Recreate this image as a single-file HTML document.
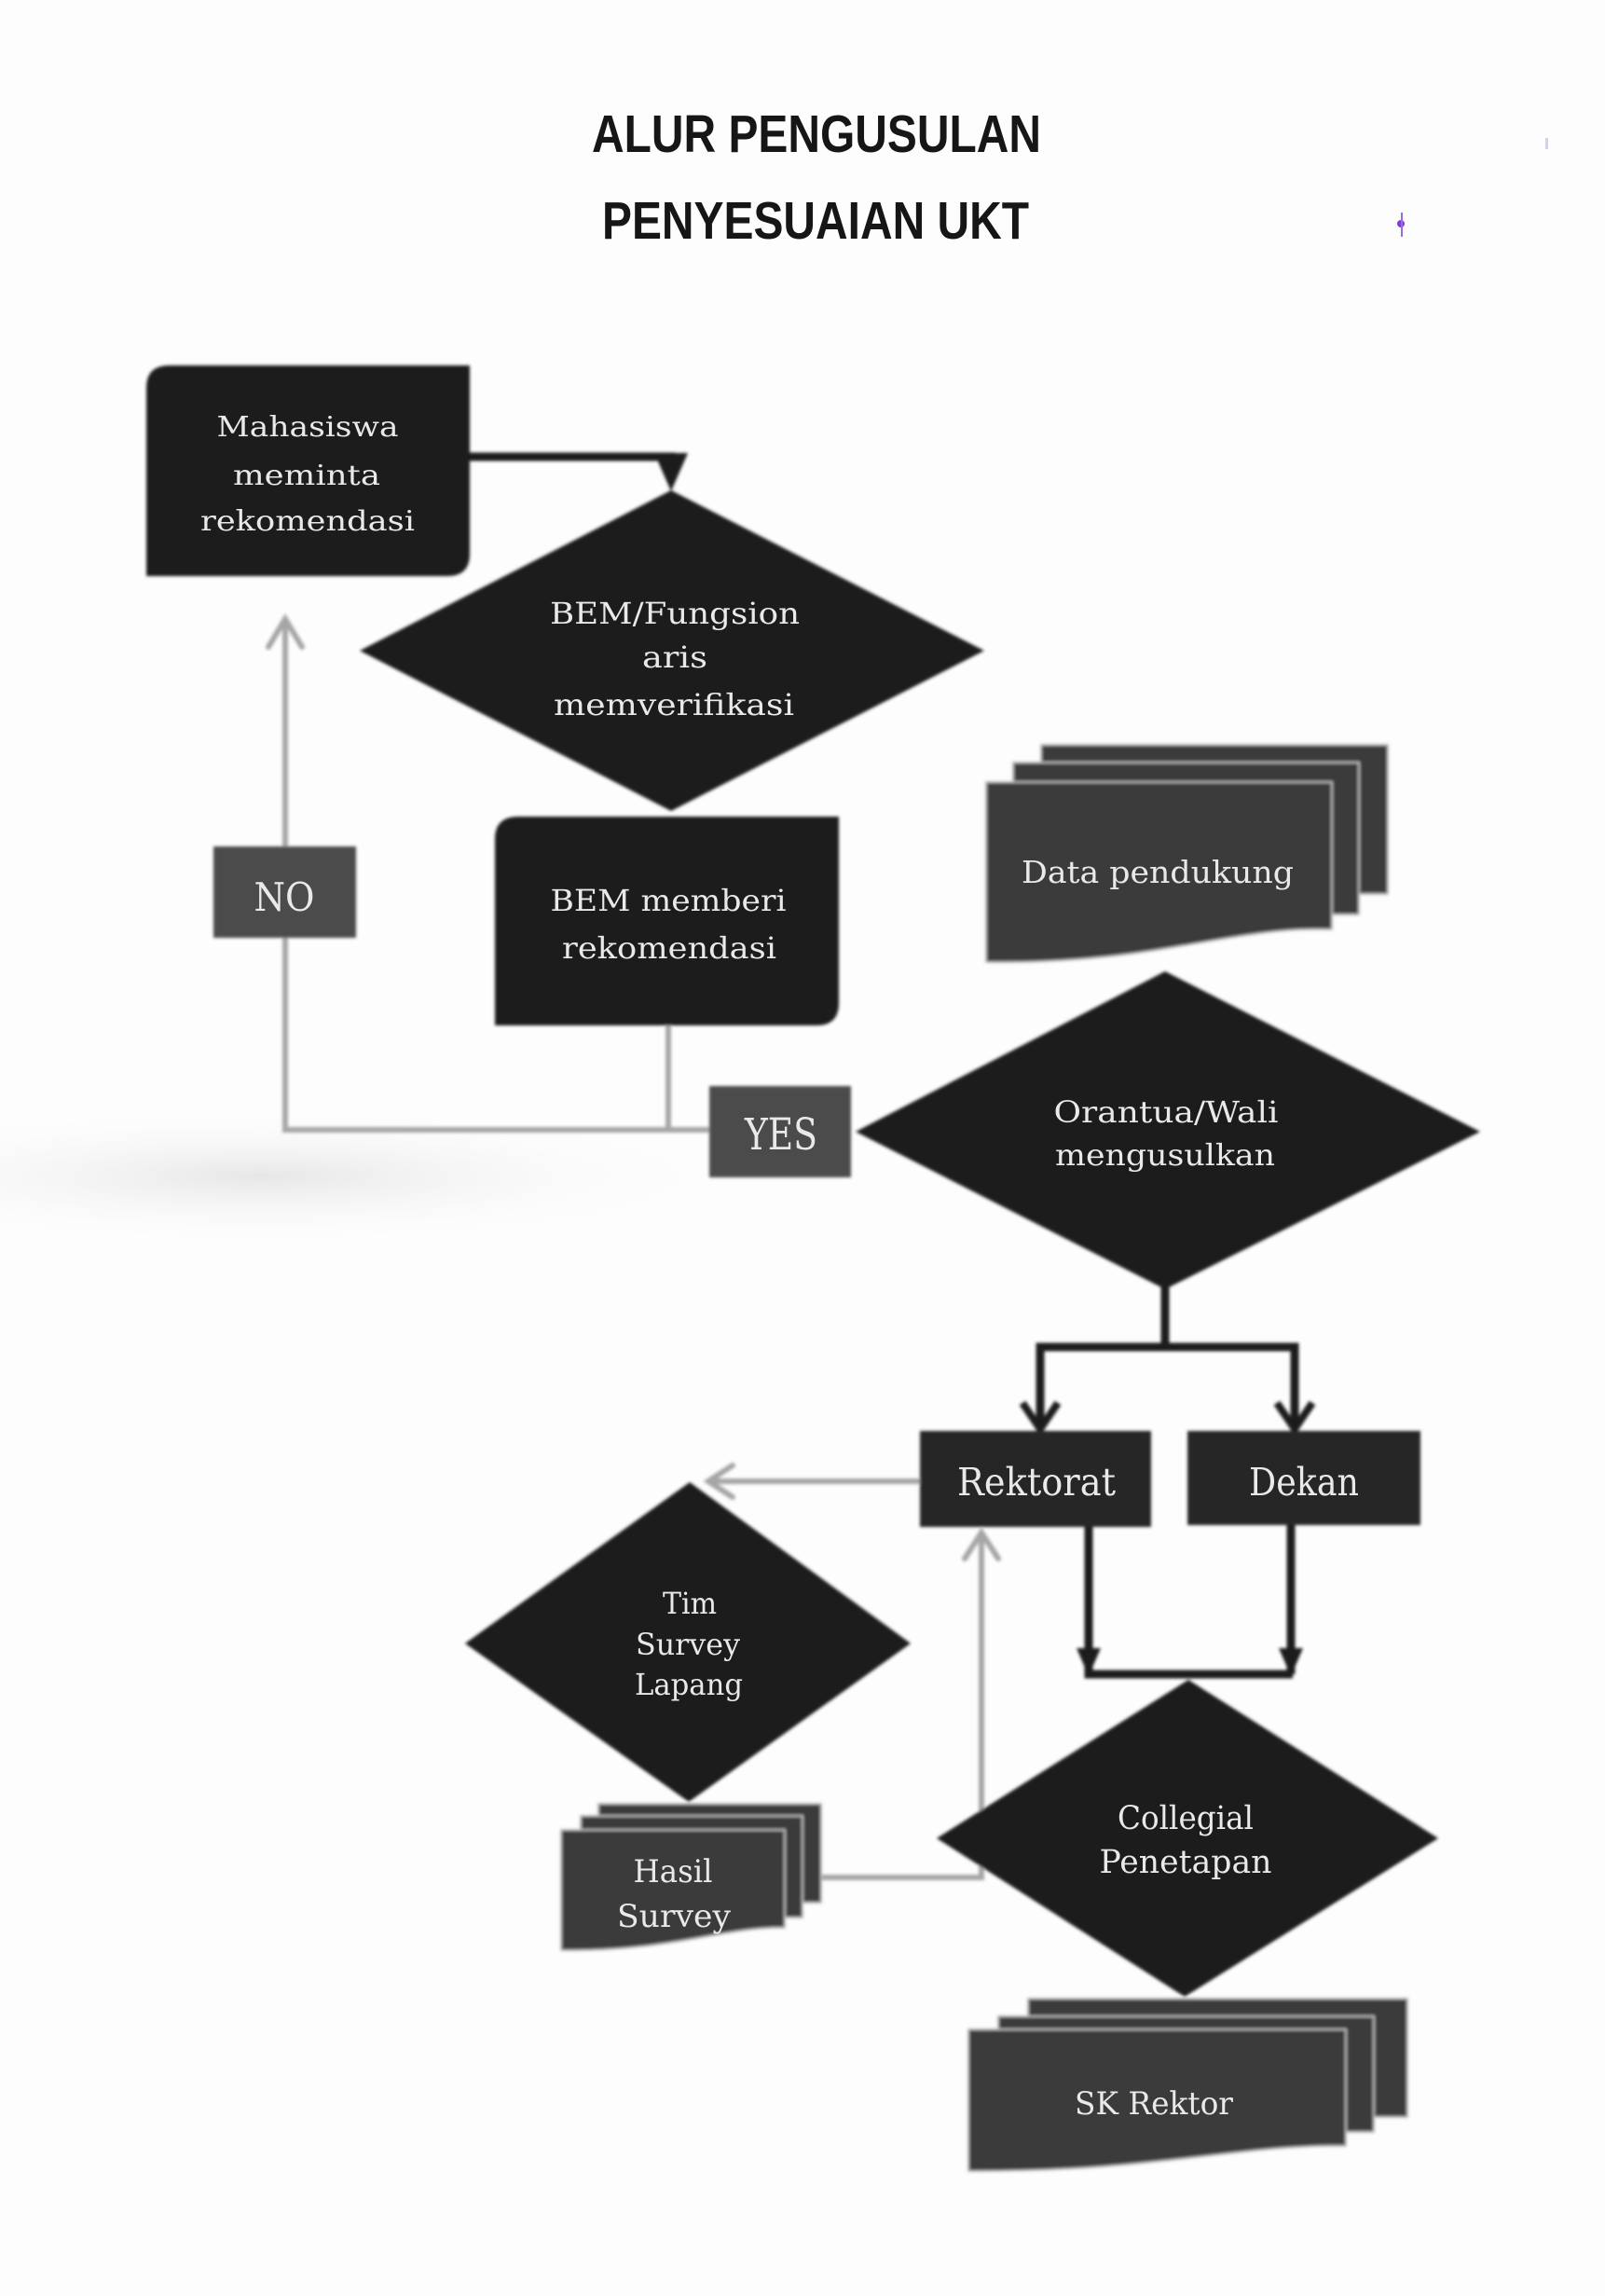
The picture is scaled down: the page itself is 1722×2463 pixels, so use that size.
<!DOCTYPE html>
<html>
<head>
<meta charset="utf-8">
<style>
  html,body{margin:0;padding:0;background:#fdfdfd;}
  svg{display:block;}
  .lbl{font-family:"DejaVu Serif","Liberation Serif",serif;fill:#e9e9e9;text-anchor:middle;}
  .ttl{font-family:"Liberation Sans",Arial,sans-serif;font-weight:bold;fill:#161616;text-anchor:middle;}
</style>
</head>
<body>
<svg width="1722" height="2463" viewBox="0 0 1722 2463" xmlns="http://www.w3.org/2000/svg">
  <defs>
    <radialGradient id="smudge" cx="0.5" cy="0.5" r="0.5">
      <stop offset="0" stop-color="#e4e4e4" stop-opacity="0.9"/>
      <stop offset="1" stop-color="#fdfdfd" stop-opacity="0"/>
    </radialGradient>
    <filter id="soft" x="-5%" y="-5%" width="110%" height="110%">
      <feGaussianBlur stdDeviation="1.5"/>
    </filter>
  </defs>

  <rect x="0" y="0" width="1722" height="2463" fill="#fdfdfd"/>
  <!-- scan smudge -->
  <ellipse cx="280" cy="1262" rx="520" ry="75" fill="url(#smudge)"/>
  <!-- stray marks -->
  <circle cx="1503" cy="240" r="4" fill="#7a3fd0"/>
  <rect x="1503" y="228" width="2" height="26" fill="#9b6be0"/>
  <rect x="1658" y="148" width="3" height="12" fill="#d8cfe8"/>

  <!-- Title -->
  <text class="ttl" x="876" y="163" font-size="57" textLength="482" lengthAdjust="spacingAndGlyphs">ALUR PENGUSULAN</text>
  <text class="ttl" x="875" y="256" font-size="57" textLength="458" lengthAdjust="spacingAndGlyphs">PENYESUAIAN UKT</text>

  <g filter="url(#soft)">
  <!-- ===== Gray connectors ===== -->
  <g stroke="#a6a6a6" stroke-width="6" fill="none" stroke-linecap="square">
    <line x1="306" y1="908" x2="306" y2="666"/>
    <polyline points="288,694 306,664 324,694" stroke-linecap="round"/>
    <polyline points="306,1006 306,1212 762,1212"/>
    <line x1="717" y1="1100" x2="717" y2="1212"/>
    <line x1="987" y1="1589" x2="762" y2="1589"/>
    <polyline points="786,1572 760,1589 786,1606" stroke-linecap="round"/>
    <polyline points="881,2014 1053,2014 1053,1648"/>
    <polyline points="1035,1672 1053,1644 1071,1672" stroke-linecap="round"/>
  </g>

  <!-- ===== Black connectors ===== -->
  <g stroke="#1b1b1b" stroke-width="9" fill="none">
    <polyline points="504,490 720,490 720,500"/>
    <polyline points="1250,1381 1250,1445"/>
    <polyline points="1116,1530 1116,1445 1389,1445 1389,1530"/>
    <polyline points="1097,1505 1116,1533 1135,1505" stroke-width="8"/>
    <polyline points="1370,1505 1389,1533 1408,1505" stroke-width="8"/>
    <polyline points="1168,1638 1168,1796 1387,1796"/>
    <line x1="1385" y1="1636" x2="1385" y2="1796"/>
  </g>
  <polygon points="702,486 738,486 720,527" fill="#1b1b1b"/>
  <polygon points="1155,1768 1181,1768 1168,1798" fill="#1b1b1b"/>
  <polygon points="1372,1768 1398,1768 1385,1798" fill="#1b1b1b"/>

  <!-- ===== Shapes ===== -->
  <path d="M182,392 L504,392 L504,594 Q504,618 480,618 L157,618 L157,416 Q157,392 182,392 Z" fill="#1c1c1c"/>
  <polygon points="720,526 1056,698 720,870 386,698" fill="#1a1a1a"/>
  <path d="M556,876 L900,876 L900,1076 Q900,1100 876,1100 L531,1100 L531,900 Q531,876 556,876 Z" fill="#1c1c1c"/>
  <rect x="229" y="908" width="153" height="98" fill="#4b4b4b"/>
  <rect x="761" y="1165" width="152" height="98" fill="#4b4b4b"/>

  <rect x="1117" y="799" width="372" height="160" fill="#3b3b3b" stroke="#bdbdbd" stroke-width="2"/>
  <rect x="1087" y="818" width="371" height="163" fill="#3b3b3b" stroke="#bdbdbd" stroke-width="2"/>
  <path d="M1058,839 L1429,839 L1429,997 C1320,993 1240,1035 1058,1032 Z" fill="#3b3b3b" stroke="#bdbdbd" stroke-width="2"/>

  <polygon points="1250,1042 1588,1214 1250,1383 918,1214" fill="#1a1a1a"/>

  <rect x="987" y="1535" width="248" height="103" fill="#262626"/>
  <rect x="1274" y="1535" width="250" height="101" fill="#262626"/>

  <polygon points="740,1590 977,1763 739,1933 499,1763" fill="#1a1a1a"/>

  <rect x="642" y="1935" width="239" height="106" fill="#3b3b3b" stroke="#bdbdbd" stroke-width="2"/>
  <rect x="623" y="1948" width="238" height="109" fill="#3b3b3b" stroke="#bdbdbd" stroke-width="2"/>
  <path d="M602,1963 L842,1963 L842,2068 C780,2066 720,2094 602,2092 Z" fill="#3b3b3b" stroke="#bdbdbd" stroke-width="2"/>

  <polygon points="1275,1802 1543,1972 1271,2142 1005,1972" fill="#1a1a1a"/>

  <rect x="1103" y="2144" width="407" height="127" fill="#3b3b3b" stroke="#bdbdbd" stroke-width="2"/>
  <rect x="1071" y="2163" width="403" height="124" fill="#3b3b3b" stroke="#bdbdbd" stroke-width="2"/>
  <path d="M1039,2177 L1444,2177 L1444,2302 C1330,2300 1240,2330 1039,2329 Z" fill="#3b3b3b" stroke="#bdbdbd" stroke-width="2"/>
  </g>

  <!-- ===== Labels ===== -->
  <text class="lbl" x="330" y="468" font-size="30" textLength="195" lengthAdjust="spacingAndGlyphs">Mahasiswa</text>
  <text class="lbl" x="329" y="520" font-size="30" textLength="158" lengthAdjust="spacingAndGlyphs">meminta</text>
  <text class="lbl" x="330" y="569" font-size="30" textLength="230" lengthAdjust="spacingAndGlyphs">rekomendasi</text>

  <text class="lbl" x="724" y="669" font-size="32" textLength="268" lengthAdjust="spacingAndGlyphs">BEM/Fungsion</text>
  <text class="lbl" x="724" y="716" font-size="32" textLength="70" lengthAdjust="spacingAndGlyphs">aris</text>
  <text class="lbl" x="723" y="767" font-size="32" textLength="258" lengthAdjust="spacingAndGlyphs">memverifikasi</text>

  <text class="lbl" x="717" y="977" font-size="32" textLength="253" lengthAdjust="spacingAndGlyphs">BEM memberi</text>
  <text class="lbl" x="718" y="1028" font-size="32" textLength="230" lengthAdjust="spacingAndGlyphs">rekomendasi</text>

  <text class="lbl" x="305" y="977" font-size="42" textLength="65" lengthAdjust="spacingAndGlyphs">NO</text>
  <text class="lbl" x="838" y="1233" font-size="47" textLength="78" lengthAdjust="spacingAndGlyphs">YES</text>

  <text class="lbl" x="1242" y="947" font-size="33" textLength="292" lengthAdjust="spacingAndGlyphs">Data pendukung</text>

  <text class="lbl" x="1251" y="1204" font-size="32" textLength="241" lengthAdjust="spacingAndGlyphs">Orantua/Wali</text>
  <text class="lbl" x="1250" y="1250" font-size="32" textLength="236" lengthAdjust="spacingAndGlyphs">mengusulkan</text>

  <text class="lbl" x="1112" y="1604" font-size="41" textLength="170" lengthAdjust="spacingAndGlyphs">Rektorat</text>
  <text class="lbl" x="1399" y="1604" font-size="41" textLength="118" lengthAdjust="spacingAndGlyphs">Dekan</text>

  <text class="lbl" x="740" y="1731" font-size="32" textLength="58" lengthAdjust="spacingAndGlyphs">Tim</text>
  <text class="lbl" x="738" y="1775" font-size="32" textLength="112" lengthAdjust="spacingAndGlyphs">Survey</text>
  <text class="lbl" x="739" y="1818" font-size="32" textLength="116" lengthAdjust="spacingAndGlyphs">Lapang</text>

  <text class="lbl" x="722" y="2019" font-size="34" textLength="85" lengthAdjust="spacingAndGlyphs">Hasil</text>
  <text class="lbl" x="723" y="2067" font-size="34" textLength="122" lengthAdjust="spacingAndGlyphs">Survey</text>

  <text class="lbl" x="1272" y="1962" font-size="35" textLength="146" lengthAdjust="spacingAndGlyphs">Collegial</text>
  <text class="lbl" x="1272" y="2009" font-size="35" textLength="185" lengthAdjust="spacingAndGlyphs">Penetapan</text>

  <text class="lbl" x="1238" y="2268" font-size="34" textLength="170" lengthAdjust="spacingAndGlyphs">SK Rektor</text>
</svg>
</body>
</html>
